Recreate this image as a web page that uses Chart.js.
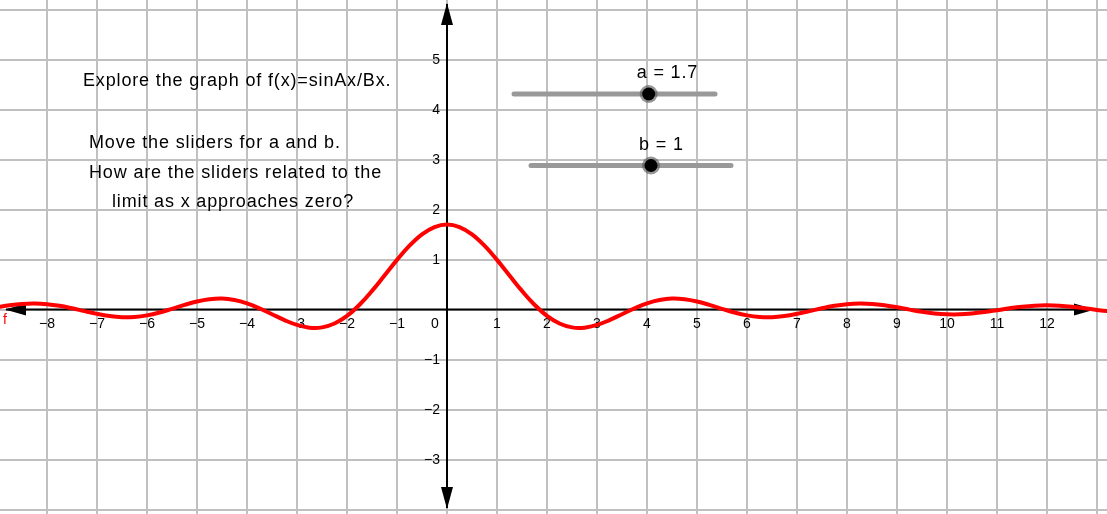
<!DOCTYPE html>
<html>
<head>
<meta charset="utf-8">
<script src="https://cdn.jsdelivr.net/npm/chart.js@4"></script>
<style>
  html, body { margin: 0; padding: 0; background: #fff; overflow: hidden; }
  #wrap { width: 1107px; height: 514px; }
</style>
</head>
<body>
<div id="wrap"><canvas id="graph" width="1107" height="514"></canvas></div>
<script>
const curveX = [
  -9, -8.75, -8.5, -8.25, -8, -7.75, -7.5, -7.25, -7, -6.75, -6.5, -6.25,
  -6, -5.75, -5.5, -5.25, -5, -4.75, -4.5, -4.25, -4, -3.75, -3.5, -3.25,
  -3, -2.75, -2.5, -2.25, -2, -1.75, -1.5, -1.25, -1, -0.75, -0.5, -0.25,
  0, 0.25, 0.5, 0.75, 1, 1.25, 1.5, 1.75, 2, 2.25, 2.5, 2.75,
  3, 3.25, 3.5, 3.75, 4, 4.25, 4.5, 4.75, 5, 5.25, 5.5, 5.75,
  6, 6.25, 6.5, 6.75, 7, 7.25, 7.5, 7.75, 8, 8.25, 8.5, 8.75,
  9, 9.25, 9.5, 9.75, 10, 10.25, 10.5, 10.75, 11, 11.25, 11.5, 11.75,
  12, 12.25, 12.5, 12.75, 13, 13.25
];
const curveY = [
  0.044, 0.085, 0.112, 0.120, 0.107, 0.074, 0.024, -0.033, -0.088, -0.131, -0.154, -0.149,
  -0.117, -0.060, 0.014, 0.091, 0.160, 0.205, 0.218, 0.190, 0.124, 0.024, -0.094, -0.212,
  -0.309, -0.363, -0.358, -0.281, -0.128, 0.095, 0.372, 0.680, 0.992, 1.276, 1.503, 1.649,
  1.7, 1.649, 1.503, 1.276, 0.992, 0.680, 0.372, 0.095, -0.128, -0.281, -0.358, -0.363,
  -0.309, -0.212, -0.094, 0.024, 0.124, 0.190, 0.218, 0.205, 0.160, 0.091, 0.014, -0.060,
  -0.117, -0.149, -0.154, -0.131, -0.088, -0.033, 0.024, 0.074, 0.107, 0.120, 0.112, 0.085,
  0.044, -0.002, -0.045, -0.078, -0.096, -0.097, -0.080, -0.051, -0.014, 0.024, 0.056, 0.077,
  0.083, 0.075, 0.054, 0.024, -0.008, -0.038
];

const xGrid = [-8, -7, -6, -5, -4, -3, -2, -1, 0, 1, 2, 3, 4, 5, 6, 7, 8, 9, 10, 11, 12, 13];
const yGrid = [-4, -3, -2, -1, 0, 1, 2, 3, 4, 5, 6];
const xLabels = [-8, -7, -6, -5, -4, -3, -2, -1, 1, 2, 3, 4, 5, 6, 7, 8, 9, 10, 11, 12];
const yLabels = [5, 4, 3, 2, 1, -1, -2, -3];

const sliderA = 1.7;
const sliderB = 1;
const sliderMin = -5, sliderMax = 5;

const notes = [
  'Explore the graph of f(x)=sinAx/Bx.',
  'Move the sliders for a and b.',
  'How are the sliders related to the',
  'limit as x approaches zero?'
];

const FONT = '"Liberation Sans", Arial, sans-serif';
const fmt = v => (v < 0 ? '\u2212' + Math.abs(v) : String(v));

// text with slightly loose spacing, drawn one glyph at a time
function spaced(ctx, str, x, y, gap) {
  let cx = x;
  for (const ch of str) {
    ctx.fillText(ch, cx, y);
    cx += ctx.measureText(ch).width + gap;
  }
}

// axes with arrow heads, drawn under the curve
const axesPlugin = {
  id: 'axes',
  beforeDatasetsDraw(chart) {
    const { ctx, scales: { x, y }, chartArea: a } = chart;
    const x0 = x.getPixelForValue(0);
    const y0 = y.getPixelForValue(0);
    ctx.save();
    ctx.strokeStyle = '#000';
    ctx.fillStyle = '#000';
    ctx.lineWidth = 2;
    ctx.beginPath();
    ctx.moveTo(a.left + 6, y0); ctx.lineTo(a.right - 14, y0);
    ctx.moveTo(x0, a.top + 4); ctx.lineTo(x0, a.bottom - 6);
    ctx.stroke();
    const tri = (p) => { ctx.beginPath(); ctx.moveTo(...p[0]); ctx.lineTo(...p[1]); ctx.lineTo(...p[2]); ctx.closePath(); ctx.fill(); };
    tri([[a.left + 5, y0], [a.left + 26, y0 - 6], [a.left + 26, y0 + 6]]);
    tri([[a.right - 12, y0], [a.right - 33, y0 - 6], [a.right - 33, y0 + 6]]);
    tri([[x0, a.top + 3], [x0 - 6, a.top + 25], [x0 + 6, a.top + 25]]);
    tri([[x0, a.bottom - 5], [x0 - 6, a.bottom - 27], [x0 + 6, a.bottom - 27]]);

    ctx.font = '14px ' + FONT;
    ctx.textAlign = 'center';
    ctx.textBaseline = 'alphabetic';
    xLabels.forEach(v => ctx.fillText(fmt(v), x.getPixelForValue(v), y0 + 18));
    ctx.fillText('0', x0 - 12, y0 + 18);
    ctx.textAlign = 'right';
    ctx.textBaseline = 'middle';
    yLabels.forEach(v => ctx.fillText(fmt(v), x0 - 7, y.getPixelForValue(v) + 0.5));
    ctx.restore();
  },
  afterDraw(chart) {
    const { ctx, scales: { y }, chartArea: a } = chart;
    ctx.save();
    ctx.fillStyle = '#000';
    ctx.font = '18px ' + FONT;
    ctx.textBaseline = 'alphabetic';
    ctx.textAlign = 'left';
    spaced(ctx, notes[0], 83, 86, 0.85);
    spaced(ctx, notes[1], 89, 148, 0.85);
    spaced(ctx, notes[2], 89, 178, 0.85);
    spaced(ctx, notes[3], 112, 207, 0.85);

    // red function label clipped at the left edge
    ctx.fillStyle = '#ff0000';
    ctx.font = '14px ' + FONT;
    ctx.fillText('f', a.left + 3, y.getPixelForValue(0) + 14);

    const slider = (x1, x2, yy, val, label) => {
      ctx.strokeStyle = '#999';
      ctx.lineWidth = 5;
      ctx.lineCap = 'round';
      ctx.beginPath(); ctx.moveTo(x1, yy); ctx.lineTo(x2, yy); ctx.stroke();
      const kx = x1 + (x2 - x1) * (val - sliderMin) / (sliderMax - sliderMin);
      ctx.fillStyle = 'rgba(80,80,80,0.6)';
      ctx.beginPath(); ctx.arc(kx, yy, 9, 0, Math.PI * 2); ctx.fill();
      ctx.fillStyle = '#000';
      ctx.beginPath(); ctx.arc(kx, yy, 6.5, 0, Math.PI * 2); ctx.fill();
      ctx.font = '18px ' + FONT;
      ctx.textAlign = 'left';
      spaced(ctx, label, kx - 12, yy - 16, 0.85);
    };
    slider(514, 715, 94, sliderA, 'a = ' + sliderA);
    slider(531, 731, 165.5, sliderB, 'b = ' + sliderB);
    ctx.restore();
  }
};

const gridOpts = { color: '#c0c0c0', lineWidth: 2, drawTicks: false };

new Chart(document.getElementById('graph'), {
  type: 'scatter',
  data: {
    datasets: [{
      data: curveX.map((v, i) => ({ x: v, y: curveY[i] })),
      showLine: true,
      borderColor: '#ff0000',
      borderWidth: 4,
      pointRadius: 0,
      tension: 0.4
    }]
  },
  options: {
    responsive: false,
    animation: false,
    layout: { padding: 0 },
    plugins: { legend: { display: false }, tooltip: { enabled: false } },
    scales: {
      x: {
        type: 'linear', min: -8.94, max: 13.2,
        ticks: { display: false },
        grid: gridOpts,
        border: { display: false },
        afterBuildTicks: s => { s.ticks = xGrid.map(v => ({ value: v })); }
      },
      y: {
        type: 'linear', min: -4.09, max: 6.19,
        ticks: { display: false },
        grid: gridOpts,
        border: { display: false },
        afterBuildTicks: s => { s.ticks = yGrid.map(v => ({ value: v })); }
      }
    }
  },
  plugins: [axesPlugin]
});
</script>
</body>
</html>
